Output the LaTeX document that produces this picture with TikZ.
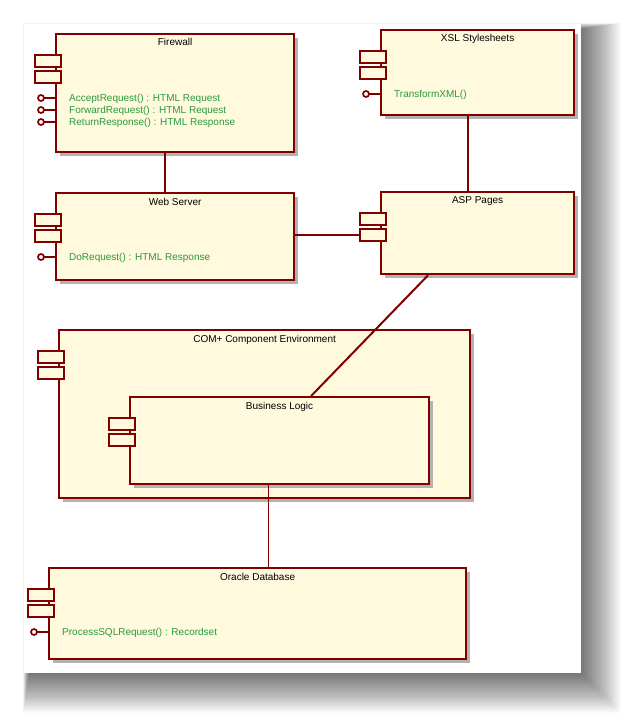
\documentclass[tikz,border=0pt]{standalone}
\usepackage{fontspec}
\setmainfont{Liberation Sans}
\usetikzlibrary{positioning,shadows}
\definecolor{umlred}{RGB}{128,0,0}
\definecolor{umlfill}{RGB}{255,249,222}
\definecolor{umlgreen}{RGB}{40,155,60}
\tikzset{
  comp/.style={draw=umlred, line width=2.2pt, fill=umlfill, anchor=north west, inner sep=0pt,
    drop shadow={shadow xshift=3.5pt, shadow yshift=-3.5pt, fill=black!30, opacity=1}},
  tab/.style={draw=umlred, line width=1.8pt, fill=umlfill, anchor=north west,
    minimum width=26pt, minimum height=12pt, inner sep=0pt},
  title/.style={font=\fontsize{10}{12}\selectfont, anchor=base, inner sep=0pt},
  ops/.style={font=\fontsize{10}{12}\selectfont, text=umlgreen, anchor=base west, inner sep=0pt},
  link/.style={draw=umlred, line width=1.8pt},
  lolli/.style={draw=umlred, line width=1.7pt, fill=white},
}

\begin{document}
\begin{tikzpicture}[x=1pt, y=-1pt]

  % component box: name, x, y, width, height, title
  \newcommand\comp[6]{%
    \node[comp, minimum width=#4pt, minimum height=#5pt] (#1) at (#2,#3) {};
    \node[title] (#1-title) at ([yshift=-13pt]#1.north) {#6};
    \node[tab] (#1-t1) at ([shift={(-21pt,-21pt)}]#1.north west) {};
    \node[tab] (#1-t2) at ([shift={(-21pt,-37pt)}]#1.north west) {};
  }
  % provided interface: name, index, text
  \newcommand\iface[3]{%
    \coordinate (#1-i#2) at ([yshift={-65pt-12pt*#2}]#1.north west);
    \draw[link, line width=1.7pt] (#1-i#2) -- ++(-11pt,0);
    \draw[lolli] ([xshift=-14pt]#1-i#2) circle (3pt);
    \node[ops] (#1-o#2) at ([shift={(14pt,-3.5pt)}]#1-i#2) {#3};
  }

  \useasboundingbox (0,0) rectangle (629,722);
  \fill[white] (0,0) rectangle (629,722);

  % page and its shadow
  \foreach \d in {0,...,39}
    \fill[black, opacity=0.016] (29-0.15*\d, 29-0.15*\d) rectangle (582+\d, 674+\d);
  \fill[white] (24,24) rectangle (581,673);

  \comp{fw}{55}{33}{238}{118}{Firewall}
  \iface{fw}{0}{AcceptRequest() : HTML Request}
  \iface{fw}{1}{ForwardRequest() : HTML Request}
  \iface{fw}{2}{ReturnResponse() : HTML Response}

  \comp{xsl}{380}{29}{193}{85}{XSL Stylesheets}
  \iface{xsl}{0}{TransformXML()}

  \comp{ws}{55}{192}{238}{87}{Web Server}
  \iface{ws}{0}{DoRequest() : HTML Response}

  \comp{asp}{380}{191}{193}{82}{ASP Pages}

  \comp{com}{58}{329}{411}{168}{COM+ Component Environment}
  \comp{bl}{129}{396}{299}{87}{Business Logic}

  \comp{ora}{48}{567}{417}{91}{Oracle Database}
  \iface{ora}{0}{ProcessSQLRequest() : Recordset}

  % connectors
  \draw[link, line width=2.2pt] ([xshift=-10pt]fw.south) -- ([xshift=-10pt]ws.north);
  \draw[link] ([xshift=-9.5pt]xsl.south) -- ([xshift=-9.5pt]asp.north);
  \draw[link] (asp-t2.west) -- (asp-t2.west -| ws.east);
  \draw[link, line width=2pt] ([xshift=-49.5pt]asp.south) -- ([xshift=31.5pt]bl.north);
  \draw[link, line width=1pt] ([xshift=-11.5pt]bl.south) -- ([xshift=-11.5pt]bl.south |- ora.north);

\end{tikzpicture}
\end{document}
